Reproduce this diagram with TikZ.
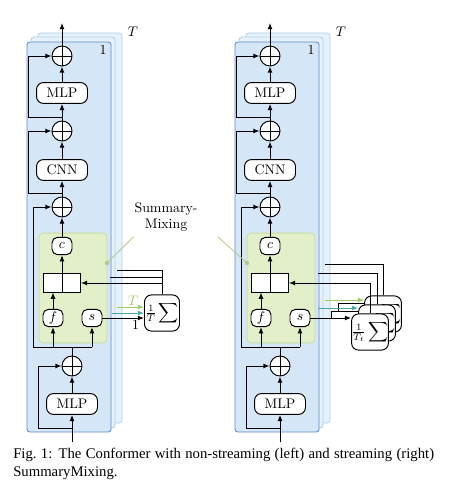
\documentclass[tikz,border=0pt]{standalone}
\usepackage{amsmath}
\usepackage{fontspec}
\newfontfamily\capfont{Liberation Serif}
\usepackage{xcolor}
\usepackage{tikz}
\usetikzlibrary{arrows.meta,positioning}

\definecolor{panelblue}{HTML}{D5E7F7}
\definecolor{paneledge}{HTML}{5A8CC8}
\definecolor{backblue}{HTML}{E6F1FA}
\definecolor{backedge}{HTML}{B0D0EA}
\definecolor{mixgreen}{HTML}{E3EFC9}
\definecolor{mixedge}{HTML}{C6DF9E}
\definecolor{layerT}{HTML}{9CCB64}
\definecolor{layermid}{HTML}{4BA8A0}

\begin{document}
\begin{tikzpicture}[
    x=0.72pt, y=-0.72pt,
    >={Latex[length=4.5pt,width=3.6pt]},
    line/.style={line width=0.7pt},
    panel/.style={draw=paneledge, fill=panelblue, line width=0.6pt, rounded corners=2pt},
    ghost/.style={draw=backedge, fill=backblue, line width=0.6pt, rounded corners=2pt},
    mixbox/.style={rectangle, draw=mixedge, fill=mixgreen, line width=0.6pt, rounded corners=3pt, minimum width=49pt, minimum height=79pt},
    block/.style={rectangle, draw, line width=0.7pt, fill=white, rounded corners=5pt, minimum width=36.7pt, minimum height=15pt, inner sep=0pt},
    op/.style={rectangle, draw, line width=0.7pt, fill=white, rounded corners=4pt, minimum width=14.4pt, minimum height=12.5pt, inner sep=0pt},
    plus/.style={circle, draw, line width=0.7pt, fill=white, minimum size=14.4pt, inner sep=0pt,
        path picture={\draw[line width=0.7pt] (path picture bounding box.north) -- (path picture bounding box.south)
            (path picture bounding box.west) -- (path picture bounding box.east);}},
    splitbox/.style={rectangle, draw, line width=0.7pt, fill=white, minimum width=26.6pt, minimum height=13pt, inner sep=0pt},
    sumbox/.style={rectangle, draw, line width=0.7pt, fill=white, rounded corners=5pt, minimum width=25.2pt, minimum height=26pt, inner sep=0pt},
    pointer/.style={draw=mixedge!90!black, line width=0.6pt}
]
    \useasboundingbox (0,0) rectangle (474,501);

    % Two Conformer columns
    \foreach \d/\s in {0/l, 208/r} {
        % Panels
        \draw[ghost] ({38+\d},33) rectangle ({122+\d},423);
        \draw[ghost] ({31+\d},37) rectangle ({115+\d},428);
        \draw[panel] ({27+\d},42) rectangle ({111+\d},432);
        \node[mixbox] (\s mix) at ({73+\d},288) {};
        \node at ({103+\d},50) {1};
        \node at ({133+\d},32) {$T$};

        % Nodes
        \node[plus] (\s add1) at ({62+\d},56) {};
        \node[block] (\s mlp2) at ({62+\d},93) {MLP};
        \node[plus] (\s add2) at ({62+\d},131) {};
        \node[block] (\s cnn) at ({62+\d},170) {CNN};
        \node[plus] (\s add3) at ({62+\d},207) {};
        \node[op] (\s c) at ({62+\d},246) {$c$};
        \node[splitbox] (\s split) at ({62+\d},283) {};
        \node[op] (\s f) at ({53+\d},318) {$f$};
        \node[op] (\s s) at ({92+\d},318) {$s$};
        \node[plus] (\s add4) at ({72+\d},366) {};
        \node[block] (\s mlp1) at ({72+\d},404) {MLP};
        \coordinate (\s in) at ({72+\d},442);
        \coordinate (\s out) at ({62+\d},23);
        \coordinate (\s fork) at ({72+\d},347);
        \coordinate (\s r4) at ({72+\d},428);
        \coordinate (\s r2) at ({62+\d},193);
        \coordinate (\s r1) at ({62+\d},117);
        \draw[line] (\s split.north) -- (\s split.south);

        % Arrows
        \draw[line, ->] (\s in) -- (\s mlp1);
        \draw[line, ->] (\s r4) -| ({38+\d},366) -- (\s add4);
        \draw[line, ->] (\s mlp1) -- (\s add4);
        \draw[line] (\s add4) -- (\s fork);
        \draw[line, ->] (\s f.south |- \s fork) -- (\s f);
        \draw[line, ->] (\s s.south |- \s fork) -- (\s s);
        \draw[line, ->] (\s s.south |- \s fork) -- ({33+\d},347) |- (\s add3.west);
        \draw[line, ->] (\s f) -- (\s f |- \s split.south);
        \draw[line, ->] (\s split.north) -- (\s c);
        \draw[line, ->] (\s c) -- (\s add3);
        \draw[line, ->] (\s add3) -- (\s cnn);
        \draw[line, ->] (\s r2) -| ({28+\d},131) -- (\s add2);
        \draw[line, ->] (\s cnn) -- (\s add2);
        \draw[line, ->] (\s add2) -- (\s mlp2);
        \draw[line, ->] (\s r1) -| ({28+\d},56) -- (\s add1);
        \draw[line, ->] (\s mlp2) -- (\s add1);
        \draw[line, ->] (\s add1) -- (\s out);
    }

    % Non-streaming summary
    \node[sumbox] (sum) at (162,313) {$\frac{1}{T}\displaystyle\sum$};
    \coordinate (lT) at (117,307);
    \coordinate (lM) at (112,313);
    \coordinate (lB) at (117,270);
    \coordinate (lA) at (110,277);
    \draw[line, ->] (ls) -- (ls -| sum.west) node[pos=0.8, below, inner sep=1pt] {1};
    \draw[line, layerT, ->] (lT) -- (lT -| sum.west) node[pos=0.6, above, inner sep=1pt] {$T$};
    \draw[line, layermid, ->] (lM) -- (lM -| sum.west);
    \draw[line, ->] (sum.north) |- (lsplit.east);
    \draw[line] (sum.north) |- (lB);
    \draw[line] (lA) -- (lA -| sum.north);

    % Streaming summaries
    \coordinate (rT) at (325,300);
    \coordinate (rM) at (318,308);
    \coordinate (rB) at (325,264);
    \coordinate (rA) at (318,273);
    \coordinate (rk1) at (331,318);
    \coordinate (rk2) at (338,311);
    \coordinate (rk3) at (338,303);
    \node[sumbox] (sumC) at (383,314) {$\frac{1}{T_t}\displaystyle\sum$};
    \draw[line] (sumC.north) |- (rB);
    \draw[line, layerT, ->] (rT) -- (rT -| sumC.west);
    \draw[line] (rk2) -- (rk3) -- (rk3 -| sumC.west);
    \node[sumbox] (sumB) at (377,323) {$\frac{1}{T_t}\displaystyle\sum$};
    \draw[line] (sumB.north) |- (rA);
    \draw[line, layermid, ->] (rM) -- (rM -| sumB.west);
    \draw[line] (rk1) |- (rk2 -| sumB.west);
    \node[sumbox] (sumA) at (370,332) {$\frac{1}{T_t}\displaystyle\sum$};
    \draw[line, ->] (sumA.north) |- (rsplit.east);
    \draw[line, ->] (rs) -- (rs -| sumA.west);

    % Labels
    \node[align=center] (smlabel) at (166,217) {Summary-\\Mixing};
    \coordinate (ldot) at (107,263);
    \coordinate (rdot) at (247,263);
    \draw[pointer] ([xshift=3pt]smlabel.south west) -- (ldot);
    \draw[pointer] ([xshift=11pt]smlabel.south east) -- (rdot);
    \fill[mixedge!90!black] (ldot) circle (1.6pt) (rdot) circle (1.6pt);

    \node[anchor=north west, inner sep=0pt, text width=303pt, align=justify,
        font=\capfont\fontsize{10.6}{13}\selectfont] (caption) at (13,448)
        {Fig.~1: The Conformer with non-streaming (left) and streaming (right)\linebreak SummaryMixing.};
\end{tikzpicture}
\end{document}
